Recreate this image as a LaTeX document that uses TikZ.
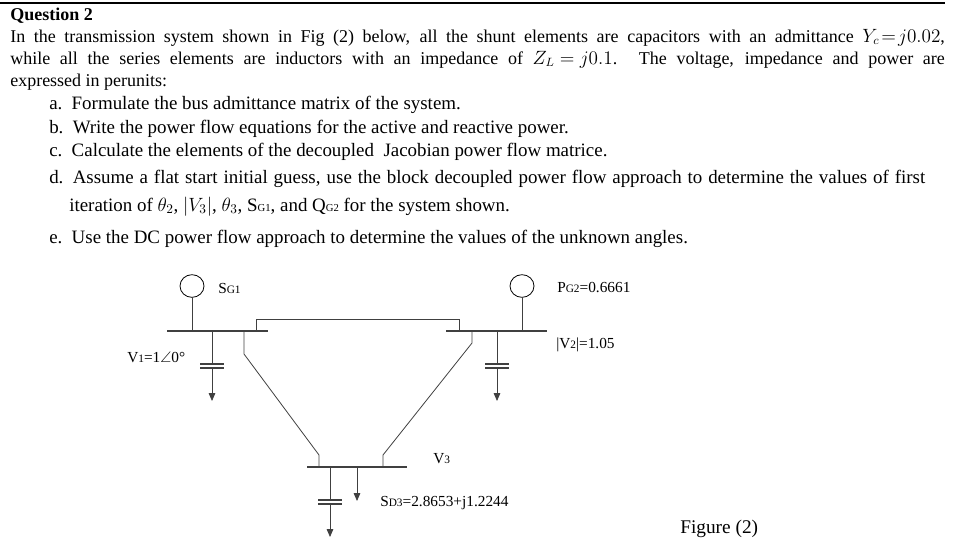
\documentclass[tikz,border=0pt]{standalone}
\usepackage{amsmath}
\usepackage{amssymb}
\usepackage{fontspec}
\setmainfont{Liberation Serif}
\usetikzlibrary{arrows.meta,shapes.geometric}
\newcommand{\sbs}[1]{{\fontsize{8.5}{9}\selectfont #1}}
\tikzset{
  wire/.style={draw=black!75, line width=0.6pt},
  bus/.style={draw=black!75, line width=0.9pt},
  plate/.style={draw=black!75, line width=0.9pt},
  gen/.style={draw=black, line width=0.6pt, ellipse, minimum width=18pt, minimum height=17pt, inner sep=0pt},
  load/.style={wire, -{Triangle[length=6pt,width=5pt]}},
  lbl/.style={inner sep=0pt, anchor=west, font=\fontsize{11.5}{12}\selectfont},
  txt/.style={inner sep=0pt, anchor=base west, font=\fontsize{13.5}{15}\selectfont},
  itm/.style={txt, font=\fontsize{14.2}{15}\selectfont},
}
\begin{document}
\begin{tikzpicture}[x=0.75pt,y=-0.75pt]
\useasboundingbox (0,0) rectangle (959,551);
% text of the question
\draw [line width=1.6pt] (0,3) -- (945,3);
\node [txt] (q) at (10,20) {\textbf{Question 2}};
\node [txt] (l1) at (10,42) {\makebox[701pt][s]{In the transmission system shown in Fig (2) below, all the shunt elements are capacitors with an admittance \mbox{$Y_c\!=\!j0.02$},}};
\node [txt] (l2) at (10,64) {\makebox[701pt][s]{while all the series elements are inductors with an impedance of \mbox{$Z_L=j0.1$}. The voltage, impedance and power are}};
\node [txt] (l3) at (10,86) {expressed in perunits:};
\node [itm] (ia) at (49,109) {a.\hspace{7pt}Formulate the bus admittance matrix of the system.};
\node [itm] (ib) at (49,133) {b.\hspace{7pt}Write the power flow equations for the active and reactive power.};
\node [itm] (ic) at (49,156) {c.\hspace{7pt}Calculate the elements of the decoupled\ \ Jacobian power flow matrice.};
\node [itm] (id) at (49,183) {\makebox[657pt][s]{d.\hspace{7pt}Assume a flat start initial guess, use the block decoupled power flow approach to determine the values of first}};
\node [itm] (id2) at (69,211) {iteration of $\theta_2$, $\left|V_3\right|$, $\theta_3$, S{\footnotesize G1}, and Q{\footnotesize G2} for the system shown.};
\node [itm] (ie) at (49,243) {e.\hspace{7pt}Use the DC power flow approach to determine the values of the unknown angles.};
% buses
\coordinate (b1l) at (167,331); \coordinate (b1r) at (268,331);
\coordinate (b2l) at (446,331); \coordinate (b2r) at (547,331);
\coordinate (b3l) at (307,467); \coordinate (b3r) at (407,467);
\draw [bus] (b1l) -- (b1r);
\draw [bus] (b2l) -- (b2r);
\draw [bus] (b3l) -- (b3r);
% generators
\node [gen] (g1) at (192,286) {};
\node [gen] (g2) at (522,286) {};
\draw [wire] (g1.south) -- (g1.south |- b1l);
\draw [wire] (g2.south) -- (g2.south |- b2l);
% lines
\draw [wire] (256,331) -- (256,319) -- (459,319) -- (459,331);
\draw [wire] (244,331) -- (244,354) -- (319,455) -- (319,467);
\draw [wire] (472,331) -- (472,343) -- (383,455) -- (383,467);
% shunt capacitors
\foreach \x/\y in {212/331, 497/331, 330/467} {
  \draw [wire] (\x,\y) -- (\x,\y+33);
  \draw [plate] (\x-12,\y+33) -- (\x+12,\y+33);
  \draw [plate] (\x-12,\y+37) -- (\x+12,\y+37);
  \draw [load] (\x,\y+37) -- (\x,\y+70);
}
% load
\draw [load] (357,467) -- (357,501);
% labels
\node [lbl] (sg1) at (218,288) {S\sbs{G1}};
\node [lbl] (pg2) at (557,288) {P\sbs{G2}=0.6661};
\node [lbl] (v2) at (556,345) {|V\sbs{2}|=1.05};
\node [lbl] (v1) at (127,357) {V\sbs{1}=1$\angle$0\textdegree};
\node [lbl] (v3) at (433,459) {V\sbs{3}};
\node [lbl] (sd3) at (380,503) {S\sbs{D3}=2.8653+j1.2244};
\node [txt, font=\fontsize{14.5}{15}\selectfont] (fig) at (680,533) {Figure (2)};
\end{tikzpicture}
\end{document}
